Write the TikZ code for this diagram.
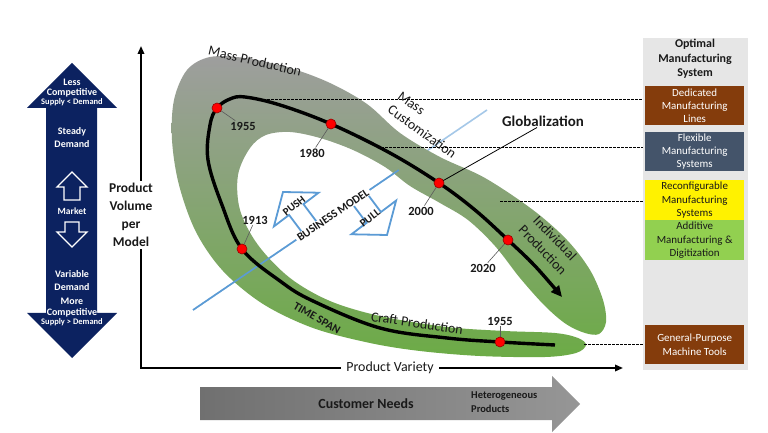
\documentclass[tikz,border=0pt]{standalone}
\usepackage{fontspec}
\setmainfont{Carlito}
\usetikzlibrary{arrows.meta,calc}
\definecolor{navy}{RGB}{12,34,96}
\definecolor{brownbox}{RGB}{132,60,12}
\definecolor{slatebox}{RGB}{68,84,106}
\definecolor{greenbox}{RGB}{146,208,80}
\definecolor{panelgrey}{RGB}{230,230,230}
\definecolor{bmblue}{RGB}{91,155,213}
\definecolor{dotred}{RGB}{255,0,0}
\definecolor{dotedge}{RGB}{150,0,0}
\definecolor{txt}{RGB}{25,25,25}
\definecolor{leadgrey}{RGB}{90,90,90}
\newcommand\fsz[2]{\fontsize{#1}{#2}\selectfont}
\begin{document}
\begin{tikzpicture}[x=1bp,y=-1bp,
  dot/.style={circle, fill=dotred, draw=dotedge, line width=0.6bp, minimum size=10bp, inner sep=0pt},
  year/.style={font=\fsz{12.5}{14}\bfseries, text=txt, inner sep=1bp},
  leader/.style={draw=leadgrey, line width=0.6bp},
  dsh/.style={draw=black, line width=0.7bp, dash pattern=on 2.5bp off 1.5bp},
  phase/.style={font=\fsz{14}{17}, text=txt, inner sep=0pt},
  arrtxt/.style={text=white, font=\fsz{10}{11}\bfseries, inner sep=0pt},
  mbox/.style={minimum width=99bp, anchor=north west, inner sep=0pt, align=center, font=\fsz{11}{13.2}},
  hollow/.style={draw=bmblue, line width=1.8bp, line join=miter},
  tipA/.tip={Triangle[length=8bp,width=6.5bp]}
]
\useasboundingbox (0,0) rectangle (768,433);
\fill[white] (0,0) rectangle (768,433);

% ---------- left market arrow ----------
\fill[navy] (72,63) -- (117,108) -- (97,108) -- (97,313) -- (117,313) -- (72,358)
  -- (27,313) -- (46,313) -- (46,108) -- (27,108) -- cycle;
\node[arrtxt] (less) at (72,82) {Less};
\node[arrtxt] (comp1) at (72,93) {Competitive};
\node[arrtxt, font=\fsz{8.5}{9}\bfseries] (sup1) at (72,102.5) {Supply {\textless} Demand};
\node[arrtxt] (st1) at (72,132) {Steady};
\node[arrtxt] (st2) at (72,144) {Demand};
\draw[white, line width=1.4bp, line join=miter] (72,172) -- (87,187) -- (80,187) -- (80,200) -- (64,200) -- (64,187) -- (57,187) -- cycle;
\node[arrtxt, font=\fsz{9.5}{10}\bfseries] (mkt) at (72,211) {Market};
\draw[white, line width=1.4bp, line join=miter] (72,247) -- (87,232) -- (79,232) -- (79,222) -- (65,222) -- (65,232) -- (57,232) -- cycle;
\node[arrtxt] (var1) at (72,274) {Variable};
\node[arrtxt] (var2) at (72,287) {Demand};
\node[arrtxt] (more) at (72,301) {More};
\node[arrtxt] (comp2) at (72,312.5) {Competitive};
\node[arrtxt, font=\fsz{8.5}{9}\bfseries] (sup2) at (72,322) {Supply {\textgreater} Demand};

% ---------- right panel ----------
\node[fill=panelgrey, minimum width=105bp, minimum height=332bp, anchor=north west, inner sep=0pt] (panel) at (643,38) {};
\node[font=\fsz{12}{14.5}\bfseries, align=center, text=txt] (opt) at (695,59) {Optimal\\Manufacturing\\System};
\node[mbox, fill=brownbox, text=white, minimum height=39bp] (ded) at (645,86) {Dedicated\\Manufacturing\\Lines};
\node[mbox, fill=slatebox, text=white, minimum height=39bp] (flex) at (645,132) {Flexible\\Manufacturing\\Systems};
\node[mbox, fill=yellow, text=txt, minimum height=40bp] (rec) at (645,180) {Reconfigurable\\Manufacturing\\Systems};
\node[mbox, fill=greenbox, text=txt, minimum height=40bp] (add) at (645,220) {Additive\\Manufacturing \&\\Digitization};
\node[mbox, fill=brownbox, text=white, minimum height=39bp, font=\fsz{11}{14}] (gp) at (645,325) {General-Purpose\\Machine Tools};

% ---------- business model line (under band) ----------
\coordinate (bmA) at (193,310);
\coordinate (bmB) at (487,110);
\draw[bmblue!55, line width=1.6bp] (bmA) -- (bmB);

% ---------- band ----------
\shade[top color={rgb,255:red,158;green,158;blue,158}, middle color={rgb,255:red,132;green,160;blue,112},
  bottom color={rgb,255:red,108;green,171;blue,70}]
  plot[smooth cycle, tension=0.55] coordinates {
  (586,345) (576,353) (545,357) (480,356) (420,351) (370,343) (313,328) (263,304)
  (223,271) (196,232) (179,185) (172,140) (174,100) (187,70) (210,57) (245,58)
  (290,68) (330,83) (367,104) (400,133) (440,157) (485,178) (533,210) (567,240)
  (590,270) (603,300) (606,322) (599,334) (585,333) (566,324) (545,306) (520,278)
  (495,246) (468,220) (440,203) (410,186) (385,167) (353,150) (320,138) (290,132)
  (266,135) (250,148) (238,175) (240,210) (258,245) (290,278) (330,301) (380,316)
  (447,327) (505,331) (555,333) (578,338)};

% visible part of the business model line
\draw[bmblue, line width=1.6bp] (bmA) -- ($(bmA)!0.7!(bmB)$);

% ---------- push / pull arrows ----------
\begin{scope}[shift={(283,192)}, rotate=127]
  \draw[hollow] (0,0) -- (-22,28) -- (-22,9) -- (-48,9) -- (-48,-9) -- (-22,-9) -- (-22,-28) -- cycle;
\end{scope}
\begin{scope}[shift={(387,235)}, rotate=-53]
  \draw[hollow] (0,0) -- (-22,28) -- (-22,9) -- (-48,9) -- (-48,-9) -- (-22,-9) -- (-22,-28) -- cycle;
\end{scope}
\node[font=\fsz{11.5}{13}\bfseries, text=txt, fill=white, inner xsep=2bp, inner ysep=0.5bp, rotate=34.2] (bm) at (333,215) {BUSINESS MODEL};
\node[font=\fsz{11}{12}\bfseries, text=txt, rotate=38, inner sep=0pt] (push) at (294,206) {PUSH};
\node[font=\fsz{11}{12}\bfseries, text=txt, rotate=38, inner sep=0pt] (pull) at (370,218) {PULL};

% ---------- axes ----------
\coordinate (O) at (141,368);
\coordinate (ytip) at (141,46);
\coordinate (xtip) at (623,368);
\draw[line width=1.8bp, line join=miter, tipA-tipA] (ytip) -- (O) -- (xtip);
\node[fill=white, font=\fsz{13.5}{18}\bfseries, align=center, text=txt, inner sep=2bp] (yl) at (131,215) {Product\\Volume\\per\\Model};
\node[fill=white, font=\fsz{14}{15}, text=txt, inner xsep=5bp, inner ysep=1bp] (xl) at (390,368) {Product Variety};

% ---------- phase labels ----------
\node[phase, rotate=-13] (mp) at (255,61) {Mass Production};
\node[phase, rotate=-36, align=left] (mc) at (427,125) {Mass\\Customization};
\node[phase, rotate=-46, align=center] (ip) at (549,244) {Individual\\Production};
\node[phase, rotate=-8] (cp) at (417,323) {Craft Production};
\node[font=\fsz{11.5}{13}\bfseries, text=txt, rotate=-30, inner sep=0pt] (ts) at (317,318) {TIME SPAN};

% ---------- dashed guide lines ----------
\coordinate (dA) at (263,99);
\coordinate (dB) at (377,147);
\coordinate (dC) at (500,201);
\coordinate (dD) at (584,344);
\draw[dsh] (dA) -- (dA -| panel.west);
\draw[dsh] (dB) -- (dB -| panel.west);
\draw[dsh] (dC) -- (dC -| panel.west);
\draw[dsh] (dD) -- (dD -| panel.west);

% ---------- time curve ----------
\draw[line width=3.4bp, -{Triangle[length=11bp,width=10bp]}]
  plot[smooth, tension=0.6] coordinates {(555,345) (500,342) (447,338) (380,328) (313,301) (280,281)
  (242,249) (222,205) (208,160) (210,125) (217,108) (230,99) (245,97) (280,105) (331,124)
  (390,153) (439,183) (475,210) (508,240) (535,266) (562,297)};

% ---------- year dots and labels ----------
\node[year] (y1955) at (243,126) {1955};
\node[year] (y1980) at (312,153) {1980};
\node[year] (y2000) at (421,211) {2000};
\node[year] (y2020) at (483,268) {2020};
\node[year] (y1913) at (255,220) {1913};
\node[year] (y1955b) at (500,321) {1955};
\node[font=\fsz{15}{17}\bfseries, text=txt, inner sep=1bp] (glob) at (543,121) {Globalization};

\coordinate (p1955) at (217,108);
\coordinate (p1980) at (331,124);
\coordinate (p2000) at (439,183);
\coordinate (p2020) at (508,240);
\coordinate (p1913) at (242,249);
\coordinate (p1955b) at (500,342);
\draw[leader] (p1955) -- (y1955);
\draw[leader] (p1980) -- (y1980);
\draw[leader] (p2000) -- (y2000);
\draw[leader] (p2020) -- (y2020);
\draw[leader] (p1913) -- (y1913);
\draw[leader] (p1955b) -- (y1955b);
\draw[black, line width=0.8bp] (p2000) -- ([xshift=-6bp]glob.south);
\node[dot] (d1955) at (p1955) {};
\node[dot] (d1980) at (p1980) {};
\node[dot] (d2000) at (p2000) {};
\node[dot] (d2020) at (p2020) {};
\node[dot] (d1913) at (p1913) {};
\node[dot] (d1955b) at (p1955b) {};

% ---------- customer needs arrow ----------
\shade[left color={rgb,255:red,112;green,112;blue,112}, right color={rgb,255:red,150;green,150;blue,150}]
  (200,387) -- (552,387) -- (552,376) -- (580,404) -- (552,432) -- (552,420) -- (200,420) -- cycle;
\node[font=\fsz{14}{16}\bfseries, text=txt] (cn) at (366,404) {Customer Needs};
\node[font=\fsz{10.5}{14}\bfseries, text=txt, align=left, anchor=west, inner sep=0pt] (het) at (471,402) {Heterogeneous\\Products};
\end{tikzpicture}
\end{document}
